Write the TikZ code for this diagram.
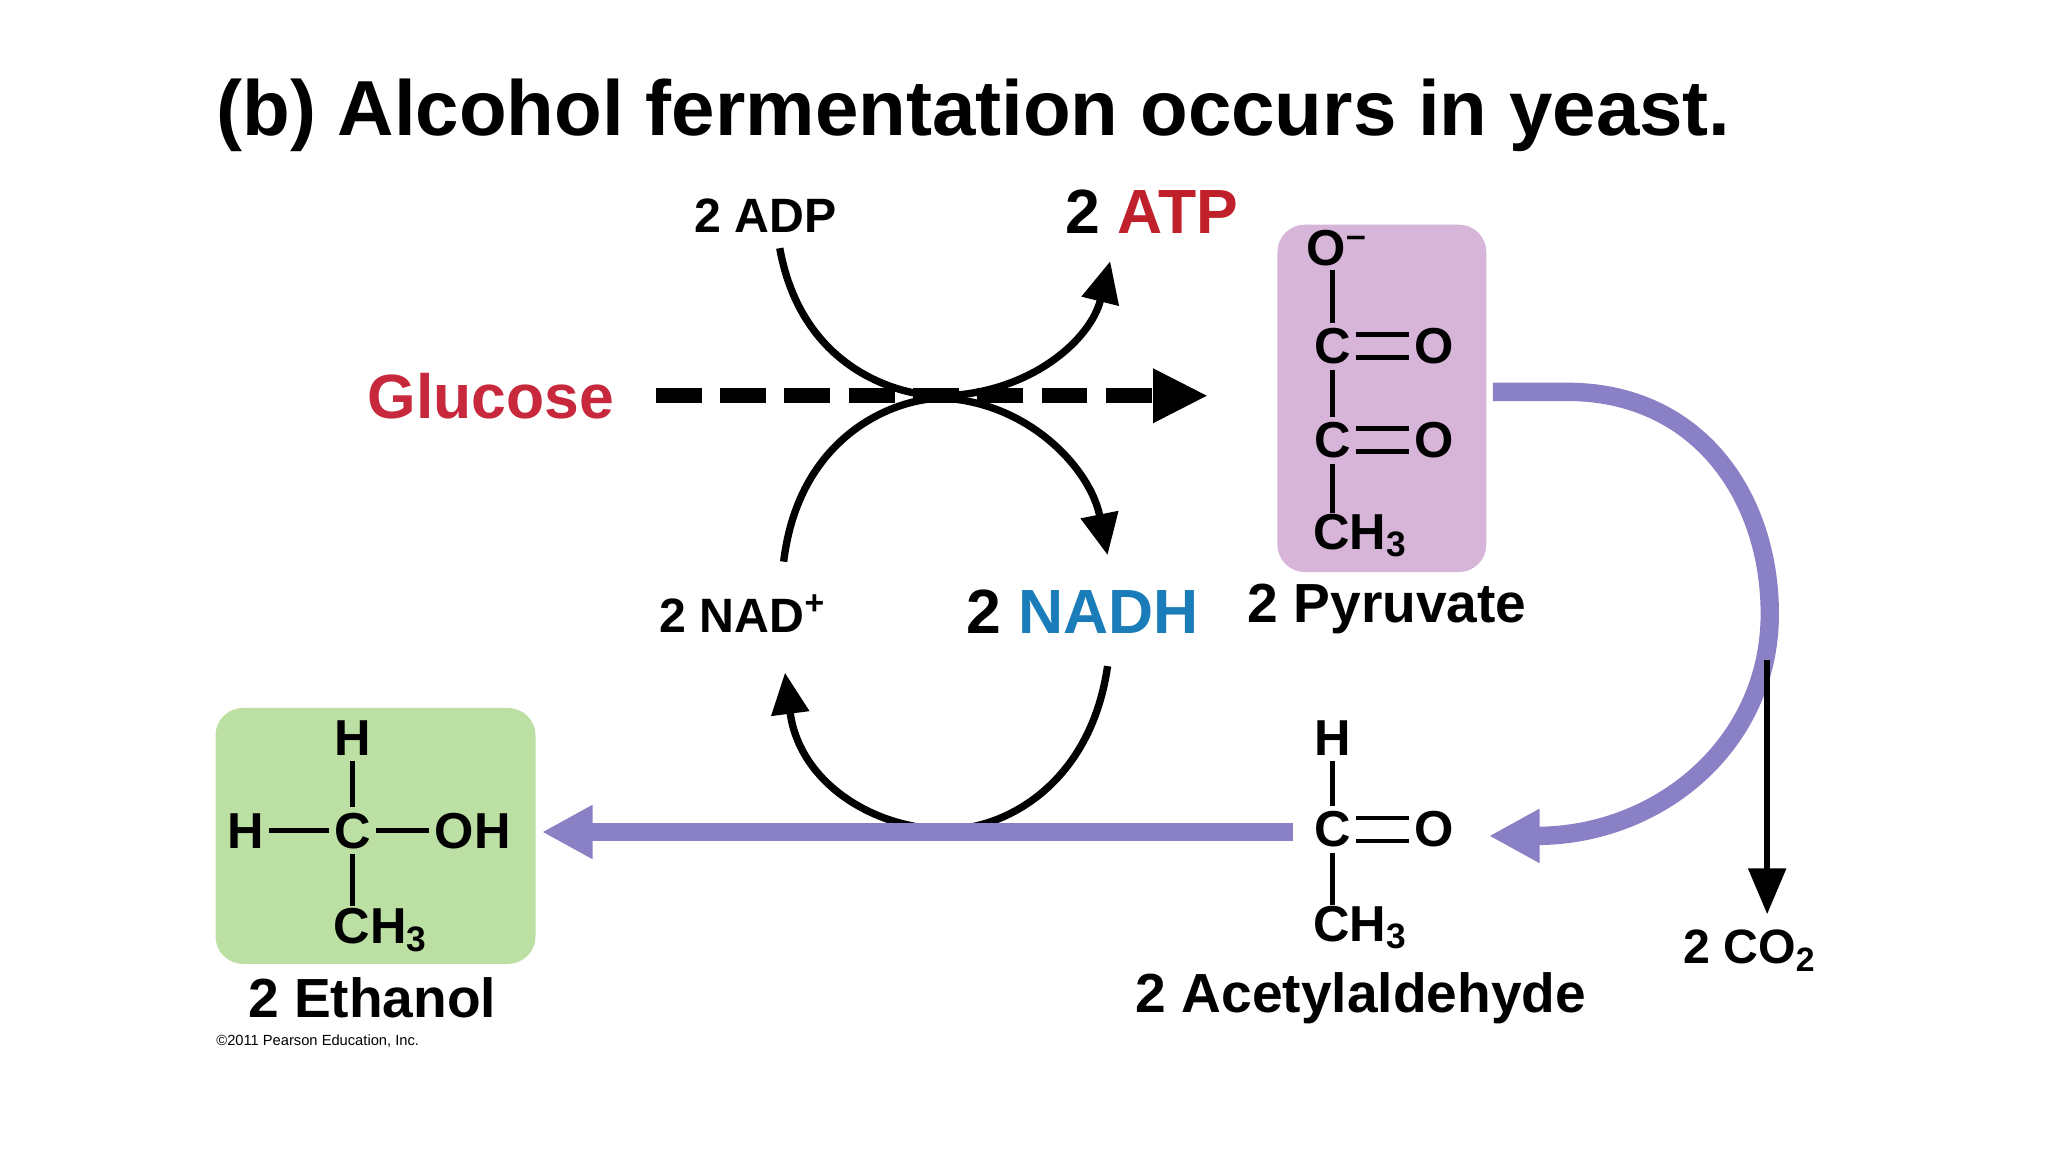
\documentclass[tikz,border=0pt]{standalone}
\usepackage{fontspec}
\setmainfont{Liberation Sans}
\usetikzlibrary{arrows.meta}
\definecolor{crim}{HTML}{C8283C}
\definecolor{atpred}{HTML}{C0202A}
\definecolor{nadblue}{HTML}{1A7CB8}
\definecolor{pyrbox}{HTML}{D7B5D9}
\definecolor{ethbox}{HTML}{BCDFA3}
\definecolor{lav}{HTML}{8A80C6}
\tikzset{
  lbl/.style={font=\bfseries\fontsize{10.5}{12}\selectfont, inner sep=0pt},
  big/.style={font=\bfseries\fontsize{12}{14}\selectfont, inner sep=0pt},
  bigger/.style={font=\bfseries\fontsize{13.6}{15}\selectfont, inner sep=0pt},
  atom/.style={font=\bfseries\fontsize{11}{12}\selectfont, inner sep=1pt},
  bond/.style={line width=1pt},
  cyc/.style={line width=1.6pt, -{Triangle[length=9pt,width=8pt]}},
  purp/.style={line width=4pt, lav, -{Triangle[length=11pt,width=11pt]}},
}
\begin{document}
\begin{tikzpicture}[x=0.01cm,y=-0.01cm]
\useasboundingbox[fill=white] (0,0) rectangle (1568,882);
\node[font=\bfseries\fontsize{17}{20}\selectfont, anchor=west, inner sep=0pt] (title) at (165,88) {(b) Alcohol fermentation occurs in yeast.};
% boxes
\fill[pyrbox, rounded corners=6pt] (978,172) rectangle (1138,438);
\fill[ethbox, rounded corners=6pt] (165,542) rectangle (410,738);
% labels
\node[lbl] (adp) at (586,165) {2 ADP};
\node[bigger] (atp) at (882,162) {2 \textcolor{atpred}{ATP}};
\node[bigger, text=crim] (glc) at (376,303) {Glucose};
\node[lbl] (nad) at (569,470) {2 NAD\textsuperscript{+}};
\node[bigger] (nadh) at (829,468) {2 \textcolor{nadblue}{NADH}};
\node[big] (pyr) at (1062,466) {2 Pyruvate};
\node[big] (acet) at (1042,764) {2 Acetylaldehyde};
\node[big] (eth) at (285,764) {2 Ethanol};
\node[lbl] (co2) at (1340,728) {2 CO\textsubscript{2}};
\node[font=\fontsize{3.2}{4}\selectfont, anchor=west, inner sep=0pt] (copy) at (165,797) {\textcopyright 2011 Pearson Education, Inc.};
% pyruvate structure
\node[atom] (po) at (1024,190) {O\textsuperscript{--}};
\node[atom] (pc1) at (1020,265) {C};
\node[atom] (po1) at (1098,265) {O};
\node[atom] (pc2) at (1020,337) {C};
\node[atom] (po2) at (1098,337) {O};
\node[atom] (pch) at (1042,410) {CH\textsubscript{3}};
\draw[bond] (1020,207) -- (pc1);
\draw[bond] (pc1) -- (pc2);
\draw[bond] (pc2) -- (1020,393);
\draw[bond] ([yshift=2.5]pc1.east) -- ([yshift=2.5]po1.west);
\draw[bond] ([yshift=-2.5]pc1.east) -- ([yshift=-2.5]po1.west);
\draw[bond] ([yshift=2.5]pc2.east) -- ([yshift=2.5]po2.west);
\draw[bond] ([yshift=-2.5]pc2.east) -- ([yshift=-2.5]po2.west);
% acetaldehyde
\node[atom] (ah) at (1020,565) {H};
\node[atom] (ac) at (1020,635) {C};
\node[atom] (ao) at (1098,635) {O};
\node[atom] (ach) at (1042,710) {CH\textsubscript{3}};
\draw[bond] (ah) -- (ac);
\draw[bond] (ac) -- (1020,693);
\draw[bond] ([yshift=2.5]ac.east) -- ([yshift=2.5]ao.west);
\draw[bond] ([yshift=-2.5]ac.east) -- ([yshift=-2.5]ao.west);
% ethanol
\node[atom] (eh) at (270,565) {H};
\node[atom] (ec) at (270,636) {C};
\node[atom] (eh2) at (188,636) {H};
\node[atom] (eoh) at (362,636) {OH};
\node[atom] (ech) at (292,712) {CH\textsubscript{3}};
\draw[bond] (eh) -- (ec);
\draw[bond] (ec) -- (270,694);
\draw[bond] (eh2) -- (ec);
\draw[bond] (ec) -- (eoh);
% glucose dashed arrow
\coordinate (gs) at (502,303);
\coordinate (ge) at (925,303);
\draw[line width=3.2pt, dash pattern=on 10pt off 4pt, -{Triangle[length=12pt,width=11pt]}] (gs) -- (ge);
% cycles
\draw[cyc] (597,190) .. controls (615,290) and (700,305) .. (725,303) .. controls (790,300) and (835,260) .. (850,200);
\draw[cyc] (600,430) .. controls (612,330) and (690,303) .. (725,305) .. controls (790,310) and (835,360) .. (848,425);
\draw[cyc] (848,510) .. controls (835,600) and (770,635) .. (725,635) .. controls (670,635) and (612,600) .. (601,515);
% purple arrows
\draw[purp] (1143,300) -- (1200,300) .. controls (1300,300) and (1355,380) .. (1355,470) .. controls (1355,570) and (1270,640) .. (1140,640);
\draw[purp] (990,637) -- (415,637);
% CO2
\draw[line width=1.4pt, -{Triangle[length=10pt,width=8pt]}] (1353,505) -- (1353,700);
\end{tikzpicture}
\end{document}
